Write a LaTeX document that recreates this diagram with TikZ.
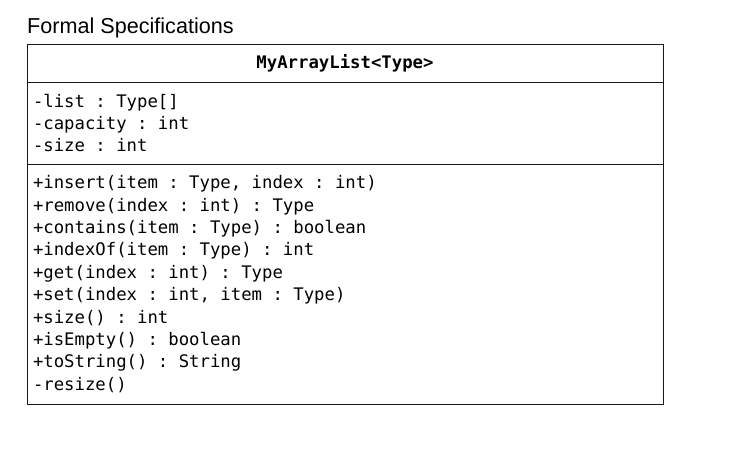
\documentclass[tikz,border=0pt]{standalone}
\usepackage{fontspec}
\setmainfont{Liberation Sans}
\newfontfamily\umlMono{DejaVu Sans Mono}
\usepackage{tikz}
\usetikzlibrary{
  positioning
}
\newcommand\umlText{\umlMono\fontsize{17.3}{22.4}\selectfont\frenchspacing}
\tikzset{
  every class part/.style={draw=classLine,line width=1pt,outer sep=0pt,inner ysep=0pt,inner xsep=6pt,text width=624pt},
}
\colorlet{classLine}{black!90}
\colorlet{classText}{black}

\begin{document}
\begin{tikzpicture}[
  x=1pt,y=-1pt,
  class name/.style={every class part,align=center,minimum height=38pt,
    font=\umlText\bfseries},
  class members/.style={every class part,align=flush left,font=\umlText},
  title/.style={anchor=base west,inner sep=0pt,font=\fontsize{21.6}{25}\selectfont}
]
\useasboundingbox (0,0) rectangle (754,453);
\node[title] (title) at (27,33) {Formal Specifications};
\node[class name,anchor=north west] (name) at (27,44) {MyArrayList<Type>};
\node[class members,minimum height=82pt,below=0pt of name] (attributes) {%
  -list : Type[]\\
  -capacity : int\\
  -size : int};
\node[class members,minimum height=240pt,below=0pt of attributes] (methods) {%
  +insert(item : Type, index : int)\\
  +remove(index : int) : Type\\
  +contains(item : Type) : boolean\\
  +indexOf(item : Type) : int\\
  +get(index : int) : Type\\
  +set(index : int, item : Type)\\
  +size() : int\\
  +isEmpty() : boolean\\
  +toString() : String\\
  -resize()};
\end{tikzpicture}
\end{document}
